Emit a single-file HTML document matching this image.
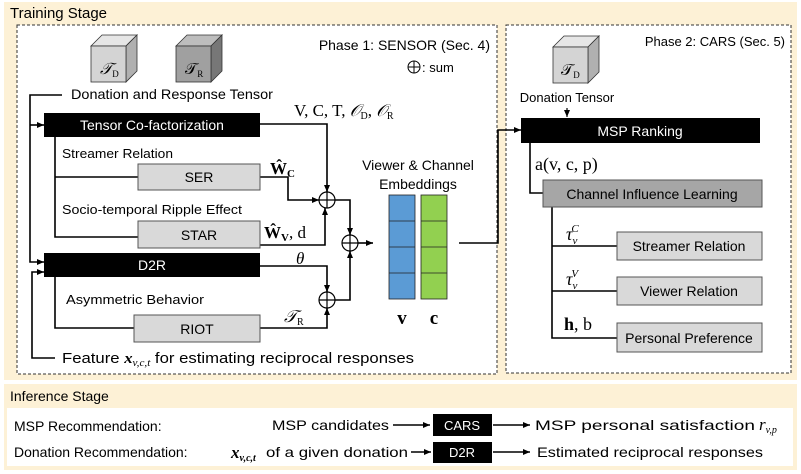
<!DOCTYPE html>
<html><head><meta charset="utf-8"><style>
html,body{margin:0;padding:0;background:#fff}
svg{display:block}
text{font-family:"Liberation Sans",sans-serif;fill:#000}
.s{font-family:"Liberation Serif",serif}
</style></head><body>
<svg width="801" height="474" viewBox="0 0 801 474" xmlns="http://www.w3.org/2000/svg">
<defs>
<marker id="a" markerWidth="8" markerHeight="8" refX="7" refY="4" orient="auto" markerUnits="userSpaceOnUse"><path d="M0,1 L7,4 L0,7z" fill="#000"/></marker>
<g id="cubeL"><path d="M0,11 L11,0 L46,0 L35,11z" fill="#e6e6e6" stroke="#333" stroke-width="0.8"/><path d="M35,11 L46,0 L46,36 L35,47z" fill="#b0b0b0" stroke="#333" stroke-width="0.8"/><rect x="0" y="11" width="35" height="36" fill="#d4d4d4" stroke="#333" stroke-width="0.8"/></g>
<g id="cubeD"><path d="M0,11 L11,0 L46,0 L35,11z" fill="#bdbdbd" stroke="#333" stroke-width="0.8"/><path d="M35,11 L46,0 L46,36 L35,47z" fill="#777" stroke="#333" stroke-width="0.8"/><rect x="0" y="11" width="35" height="36" fill="#a0a0a0" stroke="#333" stroke-width="0.8"/></g>
</defs>
<rect x="0" y="0" width="801" height="474" fill="#fff"/>
<rect x="4" y="2" width="793" height="378" fill="#fdf1d6"/>
<rect x="4" y="384" width="793" height="86" fill="#fdf1d6"/>
<text x="10" y="18" font-size="15">Training Stage</text>
<rect x="17" y="25" width="480" height="349" fill="#fff" stroke="#333" stroke-dasharray="3,2" stroke-width="1"/>
<rect x="506" y="25" width="285" height="348" fill="#fff" stroke="#333" stroke-dasharray="3,2" stroke-width="1"/>
<text x="490" y="50" font-size="14" text-anchor="end">Phase 1: SENSOR (Sec. 4)</text>
<circle cx="414" cy="67" r="6" fill="none" stroke="#000"/><path d="M408,67H420M414,61V73" stroke="#000"/>
<text x="422" y="72" font-size="13">: sum</text>
<use href="#cubeL" x="91" y="35"/><text x="100" y="74" class="s" font-size="16" font-style="italic">𝒯<tspan font-size="9" font-style="normal" dy="3">D</tspan></text>
<use href="#cubeD" x="176" y="35"/><text x="185" y="74" class="s" font-size="16">𝒯<tspan font-size="9" dy="3">R</tspan></text>
<text x="71" y="99" font-size="14" textLength="202" lengthAdjust="spacingAndGlyphs">Donation  and Response Tensor</text>
<g stroke="#000" stroke-width="1.6" fill="none">
<path d="M62,95H30V262H44" marker-end="url(#a)"/>
<path d="M30,125H44" marker-end="url(#a)"/>
<path d="M55,358H32V272H44" marker-end="url(#a)"/>
<path d="M260,124H327V192" marker-end="url(#a)"/>
<path d="M55,137V237H138M55,177H138"/>
<path d="M260,177H288V200H319" marker-end="url(#a)"/>
<path d="M260,245H325V208" marker-end="url(#a)"/>
<path d="M335,200H350V235" marker-end="url(#a)"/>
<path d="M358,243H373" marker-end="url(#a)"/>
<path d="M260,266H327V292" marker-end="url(#a)"/>
<path d="M55,277V328H134"/>
<path d="M260,328H327V308" marker-end="url(#a)"/>
<path d="M335,300H350V251" marker-end="url(#a)"/>
<path d="M459,243H498V130H521" marker-end="url(#a)"/>
<path d="M567,108V117" marker-end="url(#a)" stroke-width="1.2"/>
<path d="M530,143V193H543"/>
<path d="M552,207V338H617M552,246H617M552,291H617"/>
</g>
<g fill="#fff" stroke="#000" stroke-width="1.2">
<circle cx="327" cy="200" r="8"/><circle cx="350" cy="243" r="8"/><circle cx="327" cy="300" r="8"/>
</g>
<path d="M319,200H335M327,192V208M342,243H358M350,235V251M319,300H335M327,292V308" stroke="#000" stroke-width="1.2"/>
<rect x="44" y="113" width="216" height="24" fill="#000"/>
<text x="152" y="130" font-size="14" style="fill:#fff" text-anchor="middle">Tensor Co-factorization</text>
<text x="294" y="116" class="s" font-size="17">V, C, T, <tspan font-style="italic">𝒪</tspan><tspan font-size="10" dy="3">D</tspan><tspan dy="-3">, </tspan><tspan font-style="italic">𝒪</tspan><tspan font-size="10" dy="3">R</tspan></text>
<text x="62" y="158" font-size="13" textLength="111" lengthAdjust="spacingAndGlyphs">Streamer Relation</text>
<rect x="138" y="164" width="122" height="26" fill="#d9d9d9" stroke="#555"/>
<text x="199" y="182" font-size="14" text-anchor="middle">SER</text>
<text x="270" y="174" class="s" font-size="17" font-weight="bold">Ŵ<tspan font-size="11" dy="3">C</tspan></text>
<text x="62" y="214" font-size="13" textLength="180" lengthAdjust="spacingAndGlyphs">Socio-temporal Ripple Effect</text>
<rect x="138" y="221" width="122" height="27" fill="#d9d9d9" stroke="#555"/>
<text x="199" y="240" font-size="14" text-anchor="middle">STAR</text>
<text x="264" y="238" class="s" font-size="17"><tspan font-weight="bold">Ŵ</tspan><tspan font-size="11" font-weight="bold" dy="3">V</tspan><tspan dy="-3">, d</tspan></text>
<rect x="44" y="253" width="216" height="24" fill="#000"/>
<text x="152" y="270" font-size="14" style="fill:#fff" text-anchor="middle">D2R</text>
<text x="296" y="264" class="s" font-size="17" font-style="italic">θ</text>
<text x="66" y="304" font-size="13" textLength="138" lengthAdjust="spacingAndGlyphs">Asymmetric Behavior</text>
<rect x="134" y="315" width="126" height="27" fill="#d9d9d9" stroke="#555"/>
<text x="197" y="334" font-size="14" text-anchor="middle">RIOT</text>
<text x="284" y="322" class="s" font-size="17" font-style="italic">𝒯<tspan font-size="10" font-style="normal" dy="3">R</tspan></text>
<text x="62" y="363" font-size="15" textLength="352" lengthAdjust="spacingAndGlyphs">Feature <tspan class="s" font-weight="bold" font-style="italic">x</tspan><tspan class="s" font-size="10" font-style="italic" dy="3">v,c,t</tspan><tspan dy="-3"> for estimating reciprocal responses</tspan></text>
<text x="418" y="170" font-size="14" text-anchor="middle">Viewer &amp; Channel</text>
<text x="418" y="189" font-size="14" text-anchor="middle">Embeddings</text>
<g stroke="#222" stroke-width="0.8">
<rect x="389" y="195" width="26" height="104" fill="#5b9bd5"/>
<rect x="421" y="195" width="26" height="104" fill="#92d050"/>
<path d="M389,221H415M389,247H415M389,273H415M421,221H447M421,247H447M421,273H447"/>
</g>
<text x="402" y="324" class="s" font-size="19" font-weight="bold" text-anchor="middle">v</text>
<text x="434" y="324" class="s" font-size="19" font-weight="bold" text-anchor="middle">c</text>
<text x="785" y="46" font-size="13" text-anchor="end">Phase 2: CARS (Sec. 5)</text>
<use href="#cubeL" x="553" y="36"/><text x="561" y="75" class="s" font-size="16">𝒯<tspan font-size="9" dy="3">D</tspan></text>
<text x="567" y="102" font-size="13" text-anchor="middle">Donation Tensor</text>
<rect x="521" y="118" width="239" height="25" fill="#000"/>
<text x="640" y="136" font-size="14" style="fill:#fff" text-anchor="middle">MSP Ranking</text>
<text x="535" y="170" class="s" font-size="18">a(v, c, p)</text>
<rect x="543" y="180" width="219" height="27" fill="#a6a6a6" stroke="#555"/>
<text x="652" y="199" font-size="14" text-anchor="middle">Channel Influence Learning</text>
<text x="566" y="240" class="s" font-size="18" font-style="italic">τ<tspan font-size="11" dy="4">v</tspan><tspan font-size="11" dx="-6" dy="-12">C</tspan></text>
<rect x="617" y="232" width="145" height="28" fill="#d9d9d9" stroke="#555"/>
<text x="689" y="251" font-size="14" text-anchor="middle">Streamer Relation</text>
<text x="566" y="285" class="s" font-size="18" font-style="italic">τ<tspan font-size="11" dy="4">v</tspan><tspan font-size="11" dx="-6" dy="-12">V</tspan></text>
<rect x="617" y="277" width="145" height="28" fill="#d9d9d9" stroke="#555"/>
<text x="689" y="296" font-size="14" text-anchor="middle">Viewer Relation</text>
<text x="564" y="330" class="s" font-size="18" font-weight="bold">h<tspan font-weight="normal">, b</tspan></text>
<rect x="617" y="323" width="145" height="29" fill="#d9d9d9" stroke="#555"/>
<text x="689" y="343" font-size="14" text-anchor="middle">Personal Preference</text>
<text x="10" y="401" font-size="14">Inference Stage</text>
<rect x="7" y="408" width="786" height="58" fill="#fff"/>
<text x="14" y="431" font-size="14">MSP Recommendation:</text>
<text x="14" y="457" font-size="14">Donation Recommendation:</text>
<text x="272" y="430" font-size="14" textLength="117" lengthAdjust="spacingAndGlyphs">MSP candidates</text>
<path d="M393,425H430" stroke="#000" stroke-width="1.6" marker-end="url(#a)"/>
<rect x="433" y="414" width="59" height="22" fill="#000"/>
<text x="462" y="430" font-size="13" style="fill:#fff" text-anchor="middle">CARS</text>
<path d="M493,425H530" stroke="#000" stroke-width="1.6" marker-end="url(#a)"/>
<text x="535" y="430" font-size="14" textLength="220" lengthAdjust="spacingAndGlyphs">MSP personal satisfaction</text>
<text x="759" y="430" class="s" font-size="17" font-style="italic">r<tspan font-size="10" dy="3">v,p</tspan></text>
<text x="231" y="458" class="s" font-size="17" font-weight="bold" font-style="italic">x<tspan font-size="10" dy="3">v,c,t</tspan></text>
<text x="266" y="457" font-size="14" textLength="142" lengthAdjust="spacingAndGlyphs">of a given donation</text>
<path d="M411,452H431" stroke="#000" stroke-width="1.6" marker-end="url(#a)"/>
<rect x="433" y="442" width="59" height="21" fill="#000"/>
<text x="462" y="457" font-size="13" style="fill:#fff" text-anchor="middle">D2R</text>
<path d="M493,452H530" stroke="#000" stroke-width="1.6" marker-end="url(#a)"/>
<text x="537" y="457" font-size="14" textLength="226" lengthAdjust="spacingAndGlyphs">Estimated reciprocal responses</text>
</svg>
</body></html>
